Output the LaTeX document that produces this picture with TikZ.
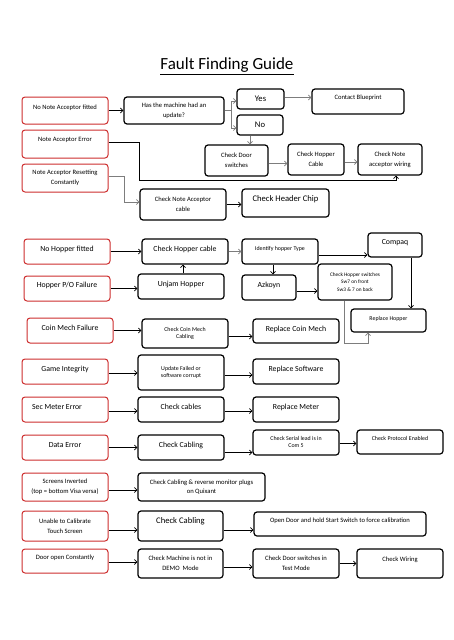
\documentclass[tikz,border=0pt]{standalone}
\usepackage{fontspec}
\setmainfont{Carlito}
\usetikzlibrary{arrows.meta}
\definecolor{faultred}{RGB}{205,45,45}
\definecolor{linkgrey}{RGB}{125,125,125}
\newcommand{\tinyt}{\fontsize{5.9}{7.6}\selectfont}
\newcommand{\smallt}{\fontsize{6.6}{9.6}\selectfont}
\newcommand{\midt}{\fontsize{7.8}{9.6}\selectfont}
\newcommand{\bigt}{\fontsize{8.6}{10}\selectfont}
\begin{document}
\begin{tikzpicture}[x=1pt, y=-1pt,
    box/.style={draw, rounded corners=3pt, line width=1.2pt, align=center, inner sep=1pt, font=\smallt},
    fault/.style={box, draw=faultred, line width=1pt},
    lift/.style={text depth=#1},
    arr/.style={line width=0.7pt, -{Straight Barb[length=2.6pt, width=5pt]}},
    garr/.style={arr, draw=linkgrey}]
  \useasboundingbox (0,0) rectangle (453,640);
  \node[font=\fontsize{17}{20}\selectfont] (title) at (227,66) {\underline{Fault Finding Guide}};

  \node[fault, minimum width=86, minimum height=27, lift=6pt] (nofit) at (65,110.5) {No Note Acceptor fitted};
  \node[fault, minimum width=86, minimum height=28, lift=9pt] (naerr) at (65,144) {Note Acceptor Error};
  \node[fault, minimum width=86, minimum height=28] (nareset) at (65,178) {Note Acceptor Resetting\\Constantly};
  \node[box, minimum width=100, minimum height=27] (update) at (174,110.5) {Has the machine had an\\update?};
  \node[box, minimum width=47, minimum height=20, font=\bigt] (yes) at (260.5,99) {Yes};
  \node[box, minimum width=46, minimum height=20, font=\bigt] (no) at (260,125) {No};
  \node[box, minimum width=92, minimum height=25, lift=8pt] (blueprint) at (358,101.5) {Contact Blueprint};
  \node[box, minimum width=63, minimum height=31] (doorsw) at (236.5,160.5) {Check Door\\switches};
  \node[box, minimum width=56, minimum height=31] (hopcab) at (316,159.5) {Check Hopper\\Cable};
  \node[box, minimum width=64, minimum height=31] (nawiring) at (390,159.5) {Check Note\\acceptor wiring};
  \node[box, minimum width=86, minimum height=31] (nacable) at (183,204.5) {Check Note Acceptor\\cable};
  \node[box, minimum width=87, minimum height=28, font=\bigt, lift=8pt] (header) at (285.5,203) {Check Header Chip};

  \node[fault, minimum width=86, minimum height=25, font=\midt, lift=6pt] (nohop) at (67,251.5) {No Hopper fitted};
  \node[fault, minimum width=86, minimum height=25, font=\midt, lift=7pt] (hoppo) at (67,288.5) {Hopper P/O Failure};
  \node[box, minimum width=86, minimum height=25, font=\midt, lift=6pt] (hopcable) at (185,251.5) {Check Hopper cable};
  \node[box, minimum width=86, minimum height=25, font=\midt, lift=6pt] (unjam) at (181,286.5) {Unjam Hopper};
  \node[box, minimum width=76, minimum height=25, font=\tinyt, lift=7pt] (identify) at (280,251.5) {Identify hopper Type};
  \node[box, minimum width=54, minimum height=24, font=\midt, lift=6pt] (compaq) at (395,245) {Compaq};
  \node[box, minimum width=54, minimum height=25, font=\midt, lift=6pt] (azkoyn) at (269,287.5) {Azkoyn};
  \node[box, minimum width=74, minimum height=36, font=\fontsize{5.3}{7.6}\selectfont] (hopsw) at (355,282) {Check Hopper switches\\Sw7 on front\\Sw3 \& 7 on back};
  \node[box, minimum width=75, minimum height=23, font=\tinyt, lift=4pt] (rephop) at (388.5,320.5) {Replace Hopper};
  \node[fault, minimum width=86, minimum height=25, font=\midt, lift=5pt] (coinfail) at (70,330.5) {Coin Mech Failure};
  \node[box, minimum width=86, minimum height=29, font=\tinyt] (coincab) at (185,333.5) {Check Coin Mech\\Cabling};
  \node[box, minimum width=86, minimum height=24, font=\midt, lift=5pt] (repcoin) at (296,331) {Replace Coin Mech};

  \node[fault, minimum width=86, minimum height=25, font=\midt, lift=6pt] (game) at (65,371.5) {Game Integrity};
  \node[box, minimum width=86, minimum height=35, font=\tinyt] (updfail) at (181,372.5) {Update Failed or\\software corrupt};
  \node[box, minimum width=86, minimum height=25, font=\midt, lift=6pt] (repsoft) at (296,371.5) {Replace Software};
  \node[fault, minimum width=86, minimum height=25, font=\midt, lift=6pt] (secmeter) at (65,409.5) {Sec Meter Error\hspace{16pt}};
  \node[box, minimum width=86, minimum height=25, font=\midt, lift=6pt] (cables) at (181,409.5) {Check cables};
  \node[box, minimum width=86, minimum height=25, font=\midt, lift=6pt] (repmeter) at (296,409.5) {Replace Meter};
  \node[fault, minimum width=86, minimum height=25, font=\midt, lift=5pt] (dataerr) at (65,447.5) {Data Error};
  \node[box, minimum width=86, minimum height=25, font=\midt, lift=5pt] (cabling) at (181,447.5) {Check Cabling};
  \node[box, minimum width=86, minimum height=25, font=\tinyt, lift=1pt] (serial) at (296,442.5) {Check Serial lead is in\\Com 5};
  \node[box, minimum width=86, minimum height=24, font=\tinyt, lift=7pt] (protocol) at (400,442) {Check Protocol Enabled};

  \node[fault, minimum width=86, minimum height=28] (screens) at (65,487) {Screens Inverted\\(top = bottom Visa versa)};
  \node[box, minimum width=127, minimum height=28] (reverse) at (201.5,487) {Check Cabling \& reverse monitor plugs\\on Quixant};
  \node[fault, minimum width=86, minimum height=30] (calib) at (65,526) {Unable to Calibrate\\Touch Screen};
  \node[box, minimum width=85, minimum height=30, font=\bigt, lift=10pt] (cablingtwo) at (180.5,526) {Check Cabling};
  \node[box, minimum width=172, minimum height=24, lift=7pt] (opendoor) at (340,524) {Open Door and hold Start Switch to force calibration};
  \node[fault, minimum width=86, minimum height=24, lift=8pt] (dooropen) at (65,561) {Door open Constantly};
  \node[box, minimum width=85, minimum height=29] (demo) at (180.5,563.5) {Check Machine is not in\\DEMO~ Mode};
  \node[box, minimum width=86, minimum height=29] (testmode) at (296,563.5) {Check Door switches in\\Test Mode};
  \node[box, minimum width=86, minimum height=29, lift=9pt] (wiring) at (400,563.5) {Check Wiring};

  \draw[arr] (nofit.east) -- (nofit.east -| update.west);
  \draw[garr] (update.east) -- ++(7,0) |- ([yshift=-2pt]yes.west);
  \draw[garr] (update.east) -- ++(7,0) |- ([yshift=-3pt]no.west);
  \draw[garr] ([yshift=1.5pt]yes.east) -- ([yshift=1.5pt]yes.east -| blueprint.west);
  \draw[garr] ([xshift=-10pt]no.south) -- ([xshift=-10pt]no.south |- doorsw.north);
  \draw[garr] ([yshift=-3pt]doorsw.east) -- ([yshift=-3pt]doorsw.east -| hopcab.west);
  \draw[garr] ([yshift=-2.5pt]hopcab.east) -- ([yshift=-2.5pt]hopcab.east -| nawiring.west);
  \draw[arr] ([yshift=2pt]naerr.east) -- ++(31,0) -- ++(0,38) -| ([xshift=6pt]nawiring.south);
  \draw[garr] ([yshift=2pt]nareset.east) -- ++(16,0) |- ([yshift=2.5pt]nacable.west);
  \draw[arr] (nacable.east) -- (nacable.east -| header.west);

  \draw[arr] (nohop.east) -- (nohop.east -| hopcable.west);
  \draw[arr] (hoppo.east) -- (hoppo.east -| unjam.west);
  \draw[arr] ([xshift=2pt]unjam.north) -- ([xshift=2pt]unjam.north |- hopcable.south);
  \draw[garr] (hopcable.east) -- (hopcable.east -| identify.west);
  \draw[arr] ([yshift=-3.5pt]identify.east) -- ([yshift=-3.5pt]identify.east -| compaq.west);
  \draw[arr] ([xshift=-7pt]identify.south) -- ([xshift=-7pt]identify.south |- azkoyn.north);
  \draw[arr] ([yshift=-3.5pt]azkoyn.east) -- ([yshift=-3.5pt]azkoyn.east -| hopsw.west);
  \draw[arr] ([xshift=16pt]compaq.south) -- ([xshift=16pt]compaq.south |- rephop.north);
  \draw[garr] ([xshift=-11pt]hopsw.south) -- ++(0,43) -| ([xshift=-20.5pt]rephop.south);
  \draw[arr] (coinfail.east) -- (coinfail.east -| coincab.west);
  \draw[arr] ([yshift=-3pt]coincab.east) -- ([yshift=-3pt]coincab.east -| repcoin.west);

  \draw[arr] ([yshift=-1.5pt]game.east) -- ([yshift=-1.5pt]game.east -| updfail.west);
  \draw[arr] ([yshift=-2.5pt]updfail.east) -- ([yshift=-2.5pt]updfail.east -| repsoft.west);
  \draw[arr] ([yshift=-1.5pt]secmeter.east) -- ([yshift=-1.5pt]secmeter.east -| cables.west);
  \draw[arr] ([yshift=-1.5pt]cables.east) -- ([yshift=-1.5pt]cables.east -| repmeter.west);
  \draw[arr] (dataerr.east) -- (dataerr.east -| cabling.west);
  \draw[arr] ([yshift=-5pt]cabling.east) -- ([yshift=-5pt]cabling.east -| serial.west);
  \draw[arr] ([yshift=-1pt]serial.east) -- ([yshift=-1pt]serial.east -| protocol.west);

  \draw[arr] ([yshift=-3pt]screens.east) -- ([yshift=-3pt]screens.east -| reverse.west);
  \draw[arr] ([yshift=-4pt]calib.east) -- ([yshift=-4pt]calib.east -| cablingtwo.west);
  \draw[arr] ([yshift=-4pt]cablingtwo.east) -- ([yshift=-4pt]cablingtwo.east -| opendoor.west);
  \draw[arr] ([yshift=-1pt]dooropen.east) -- ([yshift=-1pt]dooropen.east -| demo.west);
  \draw[arr] ([yshift=-3.5pt]demo.east) -- ([yshift=-3.5pt]demo.east -| testmode.west);
  \draw[arr] (testmode.east) -- (testmode.east -| wiring.west);
\end{tikzpicture}
\end{document}
